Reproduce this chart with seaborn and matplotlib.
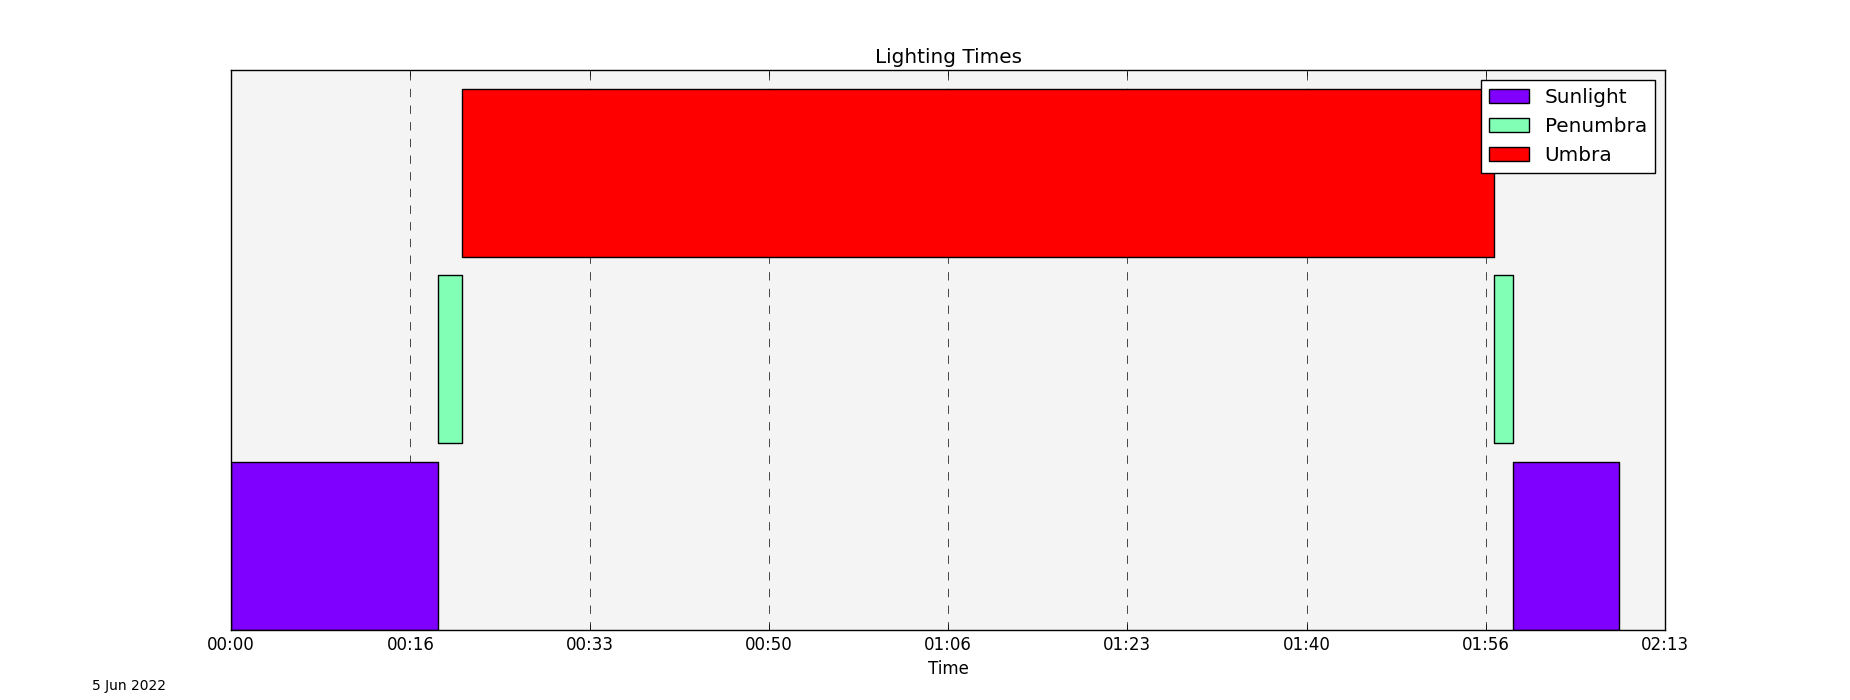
import numpy as np
import matplotlib
matplotlib.use('Agg')
import matplotlib.pyplot as plt
import matplotlib.patches as mpatches
from matplotlib.ticker import FuncFormatter
import seaborn as sns

# lighting intervals, minutes from start of pass
phases = ['Sunlight', 'Penumbra', 'Umbra']
sunlight_start = [0.0, 119.32]
sunlight_end = [19.28, 129.19]
penumbra_start = [19.28, 117.55]
penumbra_end = [21.46, 119.32]
umbra_start = [21.46]
umbra_end = [117.55]
total_minutes = 133.5
date_label = '5 Jun 2022'

plt.style.use('classic')
colors = sns.color_palette(list(plt.cm.rainbow([0.0, 0.5, 1.0])))

fig, ax = plt.subplots(figsize=(18.5, 7))
ax.set_facecolor('#f4f4f4')

rows = [(sunlight_start, sunlight_end), (penumbra_start, penumbra_end), (umbra_start, umbra_end)]
for i, (starts, ends) in enumerate(rows):
    spans = [(s, e - s) for s, e in zip(starts, ends)]
    ax.broken_barh(spans, (i, 0.9), facecolors=colors[i], edgecolor='black', linewidth=1)

ax.set_xlim(0, total_minutes)
ax.set_ylim(0, 3)
ax.set_yticks([])
ax.set_xticks(np.linspace(0, total_minutes, 9))

def fmt(x, pos):
    m = int(x)
    return '%02d:%02d' % (m // 60, m % 60)

ax.xaxis.set_major_formatter(FuncFormatter(fmt))
ax.grid(True, axis='x', linestyle='--', color='black')
ax.set_axisbelow(True)
ax.set_title('Lighting Times')
ax.set_xlabel('Time')

handles = [mpatches.Patch(facecolor=colors[i], edgecolor='black', label=phases[i]) for i in range(3)]
ax.legend(handles=handles, loc='upper right')

fig.text(0.05, 0.0143, date_label, fontsize=10, va='baseline')

fig.savefig('out.png', dpi=100, facecolor='white')
